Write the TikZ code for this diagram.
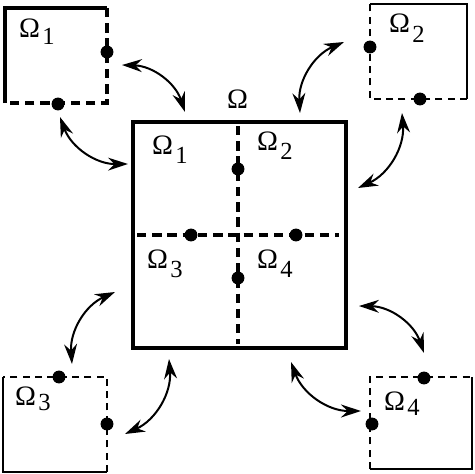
\documentclass[tikz,border=0pt]{standalone}
\usepackage{fontspec}
\setmainfont{Liberation Serif}
\usepackage{tikz}
\usetikzlibrary{arrows.meta}
\newcommand{\dom}[2][8.5pt]{Ω\hspace{2pt}\raisebox{-#1}{\fontsize{21}{24}\selectfont #2}}

\begin{document}
\begin{tikzpicture}[x=0.03cm,y=-0.03cm,
	dot/.style={circle,fill,inner sep=0pt,minimum size=11pt},
	lab/.style={anchor=base west,inner sep=0pt,font=\fontsize{24}{28}\selectfont},
	link/.style={{Stealth[length=17pt,width=11pt]}-{Stealth[length=17pt,width=11pt]},line width=1.7pt},
	bold/.style={line width=2.8pt},
	cut/.style={line width=2.8pt,dash pattern=on 8pt off 5pt},
	sub/.style={line width=1.6pt,dash pattern=on 6pt off 4.5pt}]

	\useasboundingbox (0,0) rectangle (474,474);

	\draw[bold] (133,122) rectangle (346,348);
	\draw[cut] (238,126) -- (238,344);
	\draw[cut] (137,235) -- (339,235);

	\node[dot] (c1) at (238,169) {};
	\node[dot] (c2) at (296,235) {};
	\node[dot] (c3) at (191,235) {};
	\node[dot] (c4) at (238,278) {};

	\node[lab] (om) at (227,108) {Ω};
	\node[lab] (om1) at (152,154) {\dom{1}};
	\node[lab] (om2) at (257,150) {\dom{2}};
	\node[lab] (om3) at (147,268) {\dom{3}};
	\node[lab] (om4) at (257,268) {\dom{4}};

	\draw[bold] (5,103) -- (5,8) -- (107,8);
	\draw[cut] (107,8) -- (107,103) -- (5,103);
	\node[dot] (s1a) at (107,52) {};
	\node[dot] (s1b) at (58,104) {};
	\node[lab] (l1) at (19,37) {\dom[6pt]{1}};

	\draw[line width=2.2pt] (370,4) -- (467,4) -- (467,99);
	\draw[sub,line width=2.2pt] (467,99) -- (370,99) -- (370,4);
	\node[dot] (s2a) at (370,47) {};
	\node[dot] (s2b) at (420,99) {};
	\node[lab] (l2) at (389,32) {\dom[9pt]{2}};

	\draw[line width=2.4pt] (3,377) -- (3,472) -- (107,472);
	\draw[sub] (107,472) -- (107,377) -- (3,377);
	\node[dot] (s3a) at (59,377) {};
	\node[dot] (s3b) at (107,424) {};
	\node[lab] (l3) at (15,405) {\dom[4.3pt]{3}};

	\draw[line width=2.4pt] (472,377) -- (472,469) -- (370,469);
	\draw[sub] (370,469) -- (370,377) -- (472,377);
	\node[dot] (s4a) at (424,378) {};
	\node[dot] (s4b) at (372,424) {};
	\node[lab] (l4) at (384,410) {\dom[4.3pt]{4}};

	\coordinate (p1) at (122,65);  \coordinate (q1) at (185,112);
	\coordinate (p2) at (60,117);  \coordinate (q2) at (128,164);
	\coordinate (p3) at (300,113); \coordinate (q3) at (344,42);
	\coordinate (p4) at (402,113); \coordinate (q4) at (358,188);
	\coordinate (p5) at (115,292); \coordinate (q5) at (72,364);
	\coordinate (p6) at (169,359); \coordinate (q6) at (125,434);
	\coordinate (p7) at (359,306); \coordinate (q7) at (424,353);
	\coordinate (p8) at (291,362); \coordinate (q8) at (361,411);

	\draw[link] (p1) to[bend left=35] (q1);
	\draw[link] (p2) to[bend right=35] (q2);
	\draw[link] (p3) to[bend left=35] (q3);
	\draw[link] (p4) to[bend left=35] (q4);
	\draw[link] (p5) to[bend right=35] (q5);
	\draw[link] (p6) to[bend left=35] (q6);
	\draw[link] (p7) to[bend left=35] (q7);
	\draw[link] (p8) to[bend right=35] (q8);

\end{tikzpicture}
\end{document}
